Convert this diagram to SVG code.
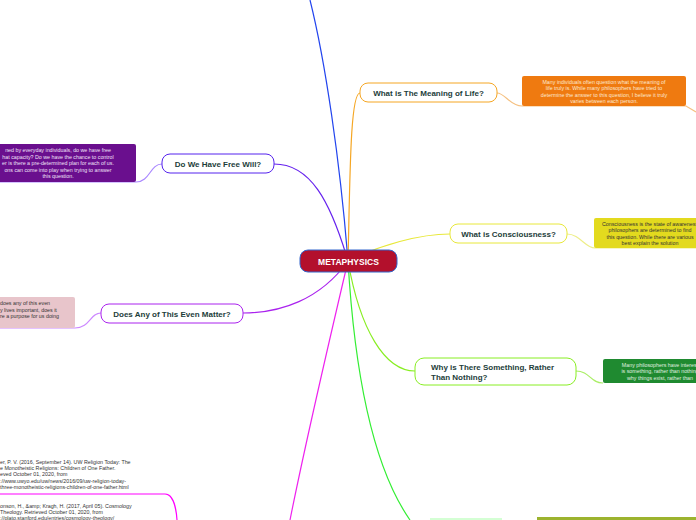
<svg xmlns="http://www.w3.org/2000/svg" width="696" height="520" viewBox="0 0 696 520">
<style>
.t{font-family:"Liberation Sans",Arial,sans-serif;font-weight:bold;font-size:8px;fill:#1d3d3a}
.s{font-family:"Liberation Sans",Arial,sans-serif;font-size:5.3px;text-anchor:middle}
.r{font-family:"Liberation Sans",Arial,sans-serif;font-size:5.3px;fill:#333}
.c{fill:none;stroke-width:1.2}
</style>
<rect width="696" height="520" fill="#fff"/>
<g id="connectors">
<path class="c" stroke="#2244ee" d="M348,261 C340,160 325,60 310,0"/>
<path class="c" stroke="#f5a623" d="M348,261 C350,180 350,93 360,93"/>
<path class="c" stroke="#e8e83a" d="M348,261 C380,245 420,234 450,234"/>
<path class="c" stroke="#88ee22" d="M348,261 C360,330 385,371 415,371"/>
<path class="c" stroke="#33ee33" d="M348,261 C355,380 375,470 410,520"/>
<path class="c" stroke="#6622ee" d="M348,261 C330,200 310,164 274,164"/>
<path class="c" stroke="#aa22ee" d="M348,261 C320,300 280,313 243,313"/>
<path class="c" stroke="#ee22ee" d="M348,261 C320,380 300,470 290,520"/>
<path class="c" stroke="#f5c080" d="M497,93 C505,93 510,106 522,106 L686,106 L696,112"/>
<path class="c" stroke="#eeee88" d="M567,234 C580,234 585,248 595,248 L696,248"/>
<path class="c" stroke="#aaee66" d="M576,371 C590,371 590,383 603,383"/>
<path class="c" stroke="#aa88ff" d="M162,164 C150,164 150,182 136,182 L0,182"/>
<path class="c" stroke="#cc88ff" d="M101,313 C90,313 90,328 75,328 L0,328"/>
<path class="c" stroke="#ff00ff" stroke-width="1.5" d="M0,494 L165,494 C172,494 176,505 177,520"/>
<path class="c" stroke="#aaffaa" d="M430,519 L502,519"/>
</g>
<g id="center"><rect x="300" y="250" width="97" height="22" rx="8" fill="#b3102c" stroke="#3366cc" stroke-width="1"/>
<text x="348.5" y="264.5" text-anchor="middle" style="font-family:'Liberation Sans',Arial,sans-serif;font-weight:bold;font-size:8.5px;fill:#fff">METAPHYSICS</text></g>
<g id="meaning"><rect x="360" y="83" width="137" height="19" rx="8" fill="#fff" stroke="#f5a623"/><text class="t" x="428.5" y="95.5" text-anchor="middle">What is The Meaning of Life?</text></g>
<g id="meaning-note"><rect x="522" y="76" width="164" height="30" rx="2" fill="#ef7a10"/>
<text class="s" fill="#fde8d0"><tspan x="604" y="84">Many individuals often question what the meaning of</tspan><tspan x="604" y="90">life truly is. While many philosophers have tried to</tspan><tspan x="604" y="96.5">determine the answer to this question, I believe it truly</tspan><tspan x="604" y="103">varies between each person.</tspan></text></g>
<g id="conscious"><rect x="450" y="224" width="117" height="19" rx="8" fill="#fff" stroke="#e8e83a"/><text class="t" x="508.5" y="236.5" text-anchor="middle">What is Consciousness?</text></g>
<g id="conscious-note"><rect x="594" y="218" width="110" height="30" rx="2" fill="#e3da1e"/>
<text class="s" fill="#333"><tspan x="650" y="226">Consciousness is the state of awareness</tspan><tspan x="650" y="232">philosophers are determined to find</tspan><tspan x="650" y="238.5">this question. While there are various</tspan><tspan x="650" y="245">best explain the solution</tspan></text></g>
<g id="something"><rect x="415" y="358" width="161" height="27" rx="9" fill="#fff" stroke="#88ee22"/><text class="t"><tspan x="431" y="370">Why is There Something, Rather</tspan><tspan x="431" y="380">Than Nothing?</tspan></text></g>
<g id="something-note"><rect x="603" y="359" width="100" height="24" rx="2" fill="#1f8a30"/>
<text class="s" fill="#e0f0e0"><tspan x="660" y="367">Many philosophers have interest</tspan><tspan x="660" y="373">is something, rather than nothing</tspan><tspan x="660" y="379.5">why things exist, rather than</tspan></text></g>
<g id="freewill"><rect x="162" y="154" width="112" height="19" rx="8" fill="#fff" stroke="#5522ee"/><text class="t" x="218" y="166.5" text-anchor="middle">Do We Have Free Will?</text></g>
<g id="freewill-note"><rect x="-20" y="144" width="156" height="38" rx="2" fill="#6a0f8e"/>
<text class="s" fill="#f0e0f8"><tspan x="58" y="152">ned by everyday individuals, do we have free</tspan><tspan x="58" y="158.5">hat capacity? Do we have the chance to control</tspan><tspan x="58" y="165">er is there a pre-determined plan for each of us.</tspan><tspan x="58" y="171.5">ons can come into play when trying to answer</tspan><tspan x="58" y="178">this question.</tspan></text></g>
<g id="matter"><rect x="101" y="304" width="142" height="19" rx="8" fill="#fff" stroke="#aa22ee"/><text class="t" x="172" y="316.5" text-anchor="middle">Does Any of This Even Matter?</text></g>
<g id="matter-note"><rect x="-10" y="297" width="85" height="31" rx="2" fill="#e8c5cb"/>
<text class="r"><tspan x="0" y="305">does any of this even</tspan><tspan x="0" y="311.5">y lives important, does it</tspan><tspan x="0" y="318">re a purpose for us doing</tspan></text></g>
<g id="refs"><text class="r"><tspan x="0" y="464">er, P. V. (2016, September 14). UW Religion Today: The</tspan><tspan x="0" y="470">e Monotheistic Religions: Children of One Father.</tspan><tspan x="0" y="476">eved October 01, 2020, from</tspan><tspan x="0" y="482.5">://www.uwyo.edu/uw/news/2016/09/uw-religion-today-</tspan><tspan x="0" y="489">three-monotheistic-religions-children-of-one-father.html</tspan></text>
<text class="r"><tspan x="0" y="508">onson, H., &amp;amp; Kragh, H. (2017, April 05). Cosmology</tspan><tspan x="0" y="514">Theology. Retrieved October 01, 2020, from</tspan><tspan x="0" y="520">://plato.stanford.edu/entries/cosmology-theology/</tspan></text></g>
<g id="bottom-note"><rect x="537" y="517" width="170" height="10" fill="#9cb32e"/></g>
</svg>
